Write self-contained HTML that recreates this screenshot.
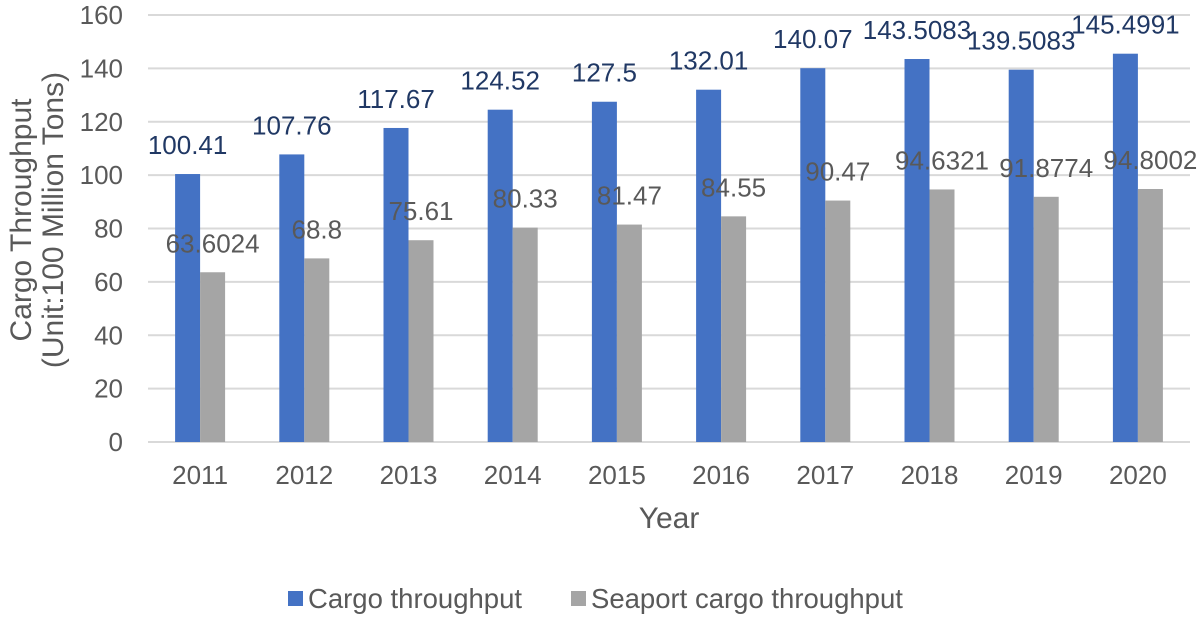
<!DOCTYPE html>
<html><head><meta charset="utf-8"><style>
body{margin:0;background:#fff;}
svg text{font-family:"Liberation Sans",Arial,sans-serif;}
</style></head><body>
<svg id="chart" width="1200" height="616"></svg>
<script>
const categories=["2011","2012","2013","2014","2015","2016","2017","2018","2019","2020"];
const cargoValues=[100.41,107.76,117.67,124.52,127.5,132.01,140.07,143.5083,139.5083,145.4991];
const seaportValues=[63.6024,68.8,75.61,80.33,81.47,84.55,90.47,94.6321,91.8774,94.8002];
const cargoLabels=["100.41","107.76","117.67","124.52","127.5","132.01","140.07","143.5083","139.5083","145.4991"];
const seaportLabels=["63.6024","68.8","75.61","80.33","81.47","84.55","90.47","94.6321","91.8774","94.8002"];
const yTicks=[0,20,40,60,80,100,120,140,160];

const svg=document.getElementById('chart');
const NS='http://www.w3.org/2000/svg';
const x0=148,x1=1190,yBase=442,yTop=15,yMax=160;
const bw=(x1-x0)/categories.length;
const y=v=>yBase-(v/yMax)*(yBase-yTop);
const xc=i=>x0+bw*(i+0.5);
function mk(t,a){const e=document.createElementNS(NS,t);for(const k in a)e.setAttribute(k,a[k]);svg.appendChild(e);return e;}

yTicks.forEach(t=>{
  const l=mk('line',{x1:x0,x2:x1,y1:y(t),y2:y(t),stroke:'#d9d9d9','stroke-width':2});
  
  
  const tx=mk('text',{x:123,y:y(t)+9,'text-anchor':'end','font-size':26,fill:'#595959'});
  tx.textContent=t;
  
  
});
categories.forEach((c,i)=>{
  const cx=xc(i);
  const b1=mk('rect',{x:cx-25,y:y(cargoValues[i]),width:25,height:yBase-y(cargoValues[i]),fill:'#4472c4'});
  
  
  const b2=mk('rect',{x:cx,y:y(seaportValues[i]),width:25,height:yBase-y(seaportValues[i]),fill:'#a5a5a5'});
  
  
  const l1=mk('text',{x:cx-12.5,y:y(cargoValues[i])-20,'text-anchor':'middle','font-size':26,fill:'#203864'});
  l1.textContent=cargoLabels[i];
  
  
  const l2=mk('text',{x:cx+12.5,y:y(seaportValues[i])-20,'text-anchor':'middle','font-size':26,fill:'#595959'});
  l2.textContent=seaportLabels[i];
  
  
  const xt=mk('text',{x:cx,y:484,'text-anchor':'middle','font-size':26,fill:'#595959'});
  xt.textContent=c;
  
  
});
</script>
<svg width="1200" height="616" style="position:absolute;left:0;top:0">
<text x="669" y="528" text-anchor="middle" font-size="30" fill="#595959">Year</text>
<text transform="translate(31,220) rotate(-90)" text-anchor="middle" font-size="30" fill="#595959"><tspan x="0" y="0">Cargo Throughput</tspan><tspan x="0" y="32">(Unit:100 Million Tons)</tspan></text>
<g>
<rect x="288" y="591" width="15" height="15" fill="#4472c4"/>
<text x="308" y="608" font-size="27.5" fill="#595959">Cargo throughput</text>
<rect x="571" y="591" width="15" height="15" fill="#a5a5a5"/>
<text x="591" y="608" font-size="27.5" fill="#595959">Seaport cargo throughput</text>
</g>
</svg>
</body></html>
